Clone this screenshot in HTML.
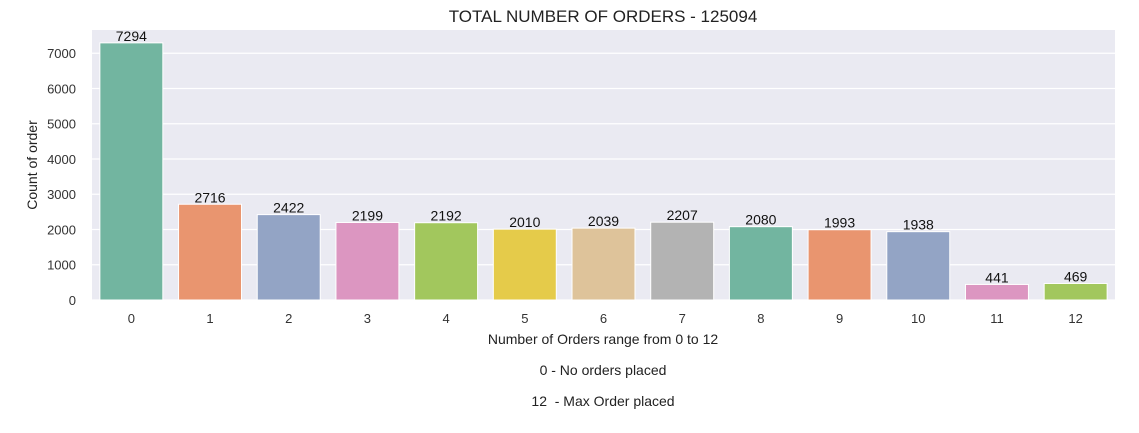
<!DOCTYPE html>
<html><head><meta charset="utf-8"><style>
body{margin:0;background:#fff;width:1139px;height:428px;overflow:hidden}
text{font-family:"Liberation Sans",sans-serif}
</style></head><body>
<svg id="chart" width="1139" height="428" xmlns="http://www.w3.org/2000/svg">
<text x="603" y="22" font-size="17" text-anchor="middle" fill="#222">TOTAL NUMBER OF ORDERS - 125094</text>
<rect x="92" y="30" width="1023" height="270" fill="#eaeaf2"/>
<g id="grid"></g><g id="bars"></g><g id="labels"></g>
<text transform="translate(37,165) rotate(-90)" font-size="14" text-anchor="middle" fill="#222">Count of order</text>
<text x="603" y="344" font-size="14" text-anchor="middle" fill="#222">Number of Orders range from 0 to 12</text>
<text x="603" y="375" font-size="14" text-anchor="middle" fill="#222">0 - No orders placed</text>
<text x="603" y="406" font-size="14" text-anchor="middle" fill="#222" xml:space="preserve">12  - Max Order placed</text>
</svg>
<script>
const categories=["0","1","2","3","4","5","6","7","8","9","10","11","12"];
const counts=[7294,2716,2422,2199,2192,2010,2039,2207,2080,1993,1938,441,469];
const yTicks=[0,1000,2000,3000,4000,5000,6000,7000];
const colors=["#72b5a0","#e9956f","#93a4c5","#dc96c1","#a2c75d","#e5cb4a","#dec39a","#b3b3b3"];
const NS="http://www.w3.org/2000/svg";
const L=92,R=1115,T=30,B=300,yMax=7659;
const y=v=>B-(v/yMax)*(B-T);
const step=(R-L)/categories.length;
const x=i=>L+step*i+step/2;
function mk(t,a,p){const e=document.createElementNS(NS,t);for(const k in a)e.setAttribute(k,a[k]);p.appendChild(e);return e;}
const grid=document.getElementById('grid'),bars=document.getElementById('bars'),labels=document.getElementById('labels');
yTicks.forEach(v=>{
 const l=mk('line',{x1:L,x2:R,y1:y(v),y2:y(v),stroke:'#fff','stroke-width':1.2},grid);
 
 
 const t=mk('text',{x:76,y:y(v)+5,'font-size':13,'text-anchor':'end',fill:'#333'},labels);
 t.textContent=v;
 
 
});
categories.forEach((c,i)=>{
 const w=step*0.8;
 const r=mk('rect',{x:x(i)-w/2,y:y(counts[i]),width:w,height:B-y(counts[i]),fill:colors[i%colors.length],stroke:'#fff','stroke-width':1},bars);
 
 
 const v=mk('text',{x:x(i),y:y(counts[i])-2,'font-size':14,'text-anchor':'middle',fill:'#111'},labels);
 v.textContent=counts[i];
 
 
 const t=mk('text',{x:x(i),y:323,'font-size':13,'text-anchor':'middle',fill:'#333'},labels);
 t.textContent=c;
 
 
});
</script>
</body></html>
